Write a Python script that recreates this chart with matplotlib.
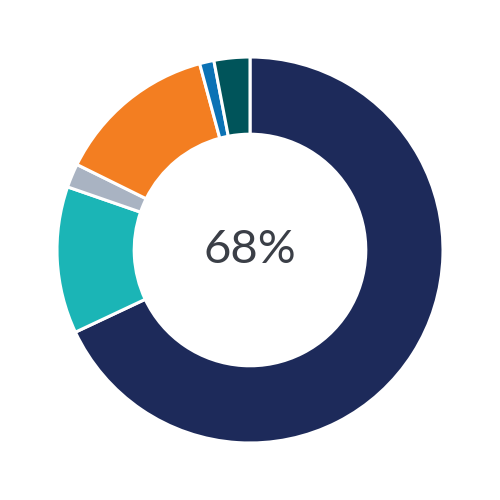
import matplotlib
matplotlib.use("Agg")
import matplotlib.pyplot as plt

# slice data, clockwise from the top
labels = ['Navy', 'Teal', 'Gray', 'Orange', 'Blue', 'Dark teal']
values = [68, 12.3, 2, 13.5, 1.2, 3]
colors = ['#1d2a5a', '#1bb5b6', '#a9b3c2', '#f37e21', '#0b72b5', '#00545a']
center_text = '68%'

fig = plt.figure(figsize=(5, 5), dpi=100)
ax = fig.add_axes([0, 0, 1, 1])

ax.pie(values, colors=colors, startangle=90, counterclock=False,
       radius=1, wedgeprops=dict(width=0.4, edgecolor='white', linewidth=2.2))

ax.text(0, 0, center_text, ha='center', va='center', fontsize=34,
        family=['Lato', 'DejaVu Sans'], fontweight='normal', color='#3b3f47')

lim = 250 / 193
ax.set_xlim(-lim, lim)
ax.set_ylim(-lim, lim)
ax.set_aspect('equal')
ax.axis('off')

plt.savefig('out.png', dpi=100)
